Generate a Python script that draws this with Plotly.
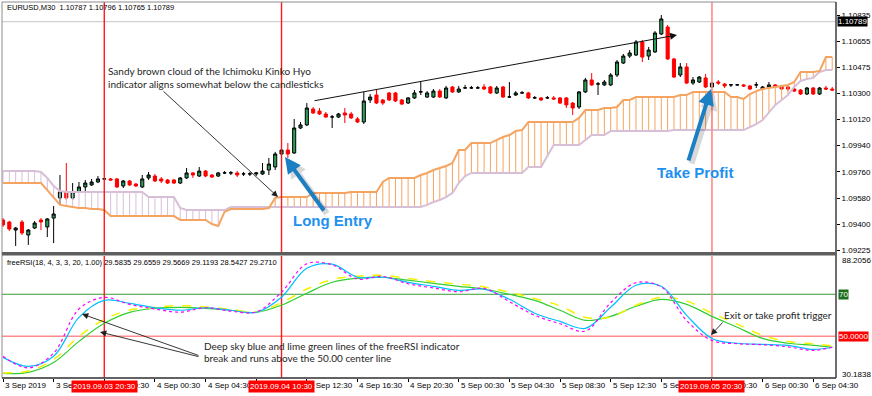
import plotly.graph_objects as go

# ------------------------------------------------------------------ data
bar_index = list(range(132))

opens = [
    1.09431, 1.09417, 1.09362, 1.09417, 1.09328, 1.09376, 1.09431, 1.09383, 1.09444, 1.09582,
    1.09623, 1.09582, 1.09623, 1.09657, 1.09671, 1.09691, 1.09712, 1.09712, 1.09712, 1.09664,
    1.09698, 1.09677, 1.09657, 1.09719, 1.09732, 1.09712, 1.09705, 1.09705, 1.09684, 1.09719,
    1.09753, 1.09732, 1.09766, 1.09739, 1.09732, 1.09753, 1.09753, 1.09753, 1.09746, 1.09746,
    1.09746, 1.09746, 1.09773, 1.09794, 1.09883, 1.09910, 1.09890, 1.10061, 1.10082, 1.10191,
    1.10177, 1.10157, 1.10136, 1.10136, 1.10164, 1.10157, 1.10123, 1.10102, 1.10253, 1.10287,
    1.10253, 1.10301, 1.10301, 1.10253, 1.10232, 1.10267, 1.10308, 1.10273, 1.10273, 1.10314,
    1.10267, 1.10342, 1.10308, 1.10335, 1.10335, 1.10335, 1.10342, 1.10342, 1.10301, 1.10342,
    1.10273, 1.10287, 1.10301, 1.10301, 1.10267, 1.10267, 1.10267, 1.10267, 1.10267, 1.10267,
    1.10232, 1.10205, 1.10308, 1.10390, 1.10362, 1.10356, 1.10356, 1.10424, 1.10506, 1.10554,
    1.10561, 1.10650, 1.10554, 1.10582, 1.10705, 1.10753, 1.10534, 1.10424, 1.10479, 1.10369,
    1.10376, 1.10404, 1.10342, 1.10376, 1.10362, 1.10356, 1.10356, 1.10356, 1.10349, 1.10356,
    1.10328, 1.10342, 1.10356, 1.10349, 1.10342, 1.10328, 1.10321, 1.10294, 1.10335, 1.10294,
    1.10335, 1.10328]

closes = [
    1.09397, 1.09369, 1.09376, 1.09342, 1.09362, 1.09410, 1.09417, 1.09438, 1.09472, 1.09623,
    1.09582, 1.09623, 1.09657, 1.09684, 1.09691, 1.09712, 1.09713, 1.09705, 1.09657, 1.09698,
    1.09671, 1.09664, 1.09712, 1.09739, 1.09698, 1.09698, 1.09684, 1.09684, 1.09719, 1.09753,
    1.09739, 1.09766, 1.09732, 1.09725, 1.09753, 1.09754, 1.09754, 1.09739, 1.09747, 1.09747,
    1.09753, 1.09766, 1.09814, 1.09883, 1.09910, 1.09883, 1.10061, 1.10082, 1.10198, 1.10164,
    1.10157, 1.10136, 1.10137, 1.10157, 1.10150, 1.10130, 1.10102, 1.10246, 1.10273, 1.10232,
    1.10232, 1.10253, 1.10246, 1.10225, 1.10267, 1.10301, 1.10309, 1.10301, 1.10314, 1.10273,
    1.10335, 1.10308, 1.10328, 1.10336, 1.10336, 1.10336, 1.10328, 1.10301, 1.10335, 1.10273,
    1.10274, 1.10301, 1.10302, 1.10267, 1.10268, 1.10253, 1.10268, 1.10260, 1.10232, 1.10219,
    1.10198, 1.10308, 1.10390, 1.10356, 1.10363, 1.10376, 1.10424, 1.10513, 1.10554, 1.10575,
    1.10650, 1.10547, 1.10595, 1.10712, 1.10808, 1.10534, 1.10410, 1.10479, 1.10369, 1.10390,
    1.10410, 1.10342, 1.10369, 1.10369, 1.10349, 1.10357, 1.10357, 1.10349, 1.10328, 1.10357,
    1.10342, 1.10356, 1.10342, 1.10328, 1.10328, 1.10314, 1.10294, 1.10335, 1.10294, 1.10335,
    1.10328, 1.10321]

highs = [
    1.09444, 1.09424, 1.09383, 1.09431, 1.09369, 1.09424, 1.09444, 1.09444, 1.09527, 1.09739,
    1.09821, 1.09684, 1.09691, 1.09705, 1.09712, 1.09732, 1.09719, 1.09719, 1.09719, 1.09705,
    1.09705, 1.09684, 1.09739, 1.09760, 1.09746, 1.09725, 1.09712, 1.09712, 1.09725, 1.09787,
    1.09760, 1.09794, 1.09773, 1.09746, 1.09760, 1.09766, 1.09766, 1.09766, 1.09760, 1.09760,
    1.09760, 1.09821, 1.09856, 1.09897, 1.09924, 1.09958, 1.10123, 1.10102, 1.10232, 1.10205,
    1.10198, 1.10171, 1.10150, 1.10164, 1.10198, 1.10171, 1.10136, 1.10308, 1.10294, 1.10321,
    1.10260, 1.10308, 1.10308, 1.10260, 1.10273, 1.10321, 1.10376, 1.10314, 1.10328, 1.10328,
    1.10349, 1.10349, 1.10349, 1.10356, 1.10349, 1.10349, 1.10362, 1.10349, 1.10349, 1.10349,
    1.10376, 1.10314, 1.10314, 1.10308, 1.10280, 1.10273, 1.10280, 1.10280, 1.10273, 1.10273,
    1.10239, 1.10314, 1.10404, 1.10437, 1.10376, 1.10390, 1.10437, 1.10527, 1.10568, 1.10595,
    1.10664, 1.10664, 1.10616, 1.10725, 1.10835, 1.10767, 1.10541, 1.10506, 1.10506, 1.10410,
    1.10417, 1.10431, 1.10376, 1.10390, 1.10369, 1.10362, 1.10362, 1.10362, 1.10356, 1.10376,
    1.10349, 1.10376, 1.10362, 1.10356, 1.10349, 1.10335, 1.10328, 1.10342, 1.10342, 1.10342,
    1.10349, 1.10342]

lows = [
    1.09383, 1.09355, 1.09253, 1.09328, 1.09260, 1.09369, 1.09362, 1.09314, 1.09273, 1.09534,
    1.09568, 1.09568, 1.09616, 1.09623, 1.09664, 1.09684, 1.09705, 1.09698, 1.09650, 1.09650,
    1.09664, 1.09657, 1.09650, 1.09705, 1.09691, 1.09684, 1.09677, 1.09677, 1.09677, 1.09712,
    1.09719, 1.09725, 1.09725, 1.09719, 1.09725, 1.09746, 1.09739, 1.09725, 1.09732, 1.09732,
    1.09732, 1.09739, 1.09739, 1.09773, 1.09869, 1.09856, 1.09883, 1.10054, 1.10075, 1.10157,
    1.10150, 1.10130, 1.10061, 1.10130, 1.10095, 1.10123, 1.10095, 1.10088, 1.10232, 1.10225,
    1.10219, 1.10246, 1.10239, 1.10219, 1.10225, 1.10260, 1.10287, 1.10267, 1.10267, 1.10267,
    1.10260, 1.10301, 1.10301, 1.10328, 1.10328, 1.10328, 1.10321, 1.10294, 1.10294, 1.10267,
    1.10267, 1.10280, 1.10294, 1.10260, 1.10260, 1.10246, 1.10260, 1.10253, 1.10225, 1.10198,
    1.10150, 1.10191, 1.10301, 1.10349, 1.10287, 1.10349, 1.10349, 1.10410, 1.10499, 1.10541,
    1.10554, 1.10513, 1.10527, 1.10575, 1.10698, 1.10527, 1.10404, 1.10410, 1.10362, 1.10356,
    1.10369, 1.10335, 1.10335, 1.10356, 1.10335, 1.10342, 1.10349, 1.10342, 1.10321, 1.10335,
    1.10321, 1.10335, 1.10335, 1.10321, 1.10314, 1.10308, 1.10287, 1.10287, 1.10287, 1.10287,
    1.10321, 1.10314]

# Ichimoku Senkou Span A (sandy brown) and Span B (thistle)
span_a = [
    1.09684, 1.09684, 1.09684, 1.09684, 1.09684, 1.09684, 1.09684, 1.09636, 1.09582, 1.09534,
    1.09527, 1.09520, 1.09513, 1.09513, 1.09506, 1.09506, 1.09499, 1.09458, 1.09458, 1.09458,
    1.09458, 1.09458, 1.09458, 1.09458, 1.09458, 1.09458, 1.09458, 1.09458, 1.09431, 1.09431,
    1.09431, 1.09431, 1.09431, 1.09403, 1.09390, 1.09486, 1.09506, 1.09506, 1.09506, 1.09506,
    1.09506, 1.09506, 1.09513, 1.09582, 1.09588, 1.09588, 1.09588, 1.09588, 1.09588, 1.09616,
    1.09616, 1.09616, 1.09616, 1.09616, 1.09616, 1.09623, 1.09623, 1.09623, 1.09623, 1.09623,
    1.09691, 1.09719, 1.09719, 1.09719, 1.09719, 1.09719, 1.09739, 1.09753, 1.09773, 1.09787,
    1.09801, 1.09821, 1.09910, 1.09910, 1.09958, 1.09958, 1.09958, 1.09958, 1.09979, 1.09999,
    1.10013, 1.10040, 1.10047, 1.10102, 1.10102, 1.10102, 1.10102, 1.10102, 1.10102, 1.10102,
    1.10102, 1.10130, 1.10184, 1.10184, 1.10184, 1.10198, 1.10198, 1.10205, 1.10253, 1.10253,
    1.10273, 1.10273, 1.10273, 1.10273, 1.10273, 1.10273, 1.10273, 1.10287, 1.10287, 1.10308,
    1.10308, 1.10308, 1.10308, 1.10308, 1.10308, 1.10273, 1.10273, 1.10260, 1.10294, 1.10314,
    1.10328, 1.10335, 1.10342, 1.10349, 1.10356, 1.10376, 1.10445, 1.10445, 1.10445, 1.10451,
    1.10547, 1.10547]

span_b = [
    1.09766, 1.09766, 1.09766, 1.09766, 1.09766, 1.09766, 1.09760, 1.09719, 1.09664, 1.09629,
    1.09623, 1.09623, 1.09623, 1.09623, 1.09623, 1.09623, 1.09623, 1.09623, 1.09623, 1.09623,
    1.09623, 1.09623, 1.09623, 1.09588, 1.09588, 1.09588, 1.09588, 1.09588, 1.09513, 1.09499,
    1.09499, 1.09499, 1.09499, 1.09499, 1.09499, 1.09499, 1.09520, 1.09520, 1.09520, 1.09520,
    1.09520, 1.09520, 1.09520, 1.09520, 1.09520, 1.09520, 1.09520, 1.09520, 1.09520, 1.09520,
    1.09520, 1.09520, 1.09520, 1.09520, 1.09520, 1.09520, 1.09520, 1.09520, 1.09520, 1.09520,
    1.09520, 1.09520, 1.09520, 1.09520, 1.09520, 1.09520, 1.09520, 1.09534, 1.09554, 1.09568,
    1.09588, 1.09616, 1.09684, 1.09732, 1.09753, 1.09753, 1.09753, 1.09753, 1.09753, 1.09753,
    1.09753, 1.09753, 1.09753, 1.09794, 1.09794, 1.09794, 1.09869, 1.09945, 1.09945, 1.09945,
    1.09945, 1.09945, 1.09979, 1.10013, 1.10013, 1.10013, 1.10040, 1.10040, 1.10040, 1.10040,
    1.10040, 1.10040, 1.10040, 1.10040, 1.10040, 1.10040, 1.10047, 1.10047, 1.10047, 1.10047,
    1.10047, 1.10047, 1.10047, 1.10047, 1.10047, 1.10047, 1.10047, 1.10047, 1.10068, 1.10088,
    1.10116, 1.10164, 1.10219, 1.10253, 1.10287, 1.10342, 1.10383, 1.10397, 1.10404, 1.10445,
    1.10458, 1.10458]

# freeRSI sub-window (sampled every 4 bars)
rsi_index = [0, 4, 8, 12, 16, 20, 24, 28, 32, 36, 40, 44, 48, 52, 56, 60, 64,
             68, 72, 76, 80, 84, 88, 92, 96, 100, 104, 108, 112, 116, 120, 124, 128, 131]
rsi_blue = [40.0, 35.7, 40.5, 59.0, 67.1, 65.7, 63.6, 62.4, 63.6, 62.4, 61.4, 68.6, 82.4,
            84.3, 78.1, 78.1, 75.7, 73.8, 71.9, 72.4, 67.6, 61.0, 57.1, 53.8, 63.8, 74.3,
            73.8, 60.0, 49.0, 46.7, 46.2, 45.7, 43.8, 44.8]
rsi_magenta = [40.5, 35.0, 42.0, 63.0, 68.5, 65.2, 63.0, 61.5, 63.6, 62.0, 61.6, 71.0, 84.5,
               84.0, 77.2, 78.5, 75.0, 73.0, 71.2, 72.8, 66.5, 60.0, 56.0, 52.5, 66.0, 75.5,
               73.5, 57.5, 48.0, 46.5, 46.0, 45.0, 43.3, 44.8]
rsi_lime = [32.4, 32.9, 37.6, 47.6, 56.2, 61.4, 63.3, 63.8, 63.3, 62.4, 61.4, 64.8, 70.5,
            75.7, 77.6, 78.1, 76.7, 75.2, 73.8, 72.4, 70.0, 67.1, 62.4, 57.6, 59.5, 64.3,
            67.6, 65.2, 59.5, 54.3, 49.0, 46.7, 45.7, 44.8]
rsi_yellow = [32.6, 33.5, 39.0, 50.0, 58.0, 62.5, 63.8, 64.6, 64.0, 62.8, 61.6, 66.0, 72.5,
              77.0, 78.6, 79.0, 77.5, 76.0, 74.8, 73.5, 71.0, 68.0, 64.5, 59.0, 59.2, 64.8,
              68.5, 66.8, 61.0, 55.8, 50.5, 47.5, 46.4, 45.5]
rsi_levels = [70, 50]
rsi_range = [30.1838, 88.2056]

time_tick_index = [0, 8, 16, 24, 32, 40, 48, 56, 64, 72, 80, 88, 96, 104, 112, 120, 128]
time_tick_labels = ["3 Sep 2019", "3 Sep 16:30", "3 Sep 20:30", "4 Sep 00:30", "4 Sep 04:30",
                    "4 Sep 08:30", "4 Sep 12:30", "4 Sep 16:30", "4 Sep 20:30", "5 Sep 00:30",
                    "5 Sep 04:30", "5 Sep 08:30", "5 Sep 12:30", "5 Sep 16:30", "5 Sep 20:30",
                    "6 Sep 00:30", "6 Sep 04:30"]
price_ticks = [1.10835, 1.10655, 1.10475, 1.10300, 1.10120, 1.09940, 1.09760, 1.09580,
               1.09400, 1.09225]
marker_index = [16, 44, 112]
marker_labels = ["2019.09.03 20:30", "2019.09.04 10:30", "2019.09.05 20:30"]
bid_price = 1.10789
price_range = [1.092116, 1.109241]

# ------------------------------------------------------------------ geometry
W, H = 872, 396
ML, MR, MT, MB = 2, 36, 2, 18
PW, PH = W - ML - MR, H - MT - MB
BAR_PX, FIRST_BAR_PX = 6.33, 3.0
x_range = [(ML - FIRST_BAR_PX) / BAR_PX, (ML + PW - FIRST_BAR_PX) / BAR_PX]


def fx(xp):
    return (xp - ML) / PW


def fy(yp):
    return (H - MB - yp) / PH


ORANGE = "#F4A460"
THISTLE = "#D8BFD8"
TXT = "#262626"
BLUE_TXT = "#1E90F0"
BLUE_ARR = "#1B7FC4"

fig = go.Figure()

# cloud hatching
hxa, hya, hxb, hyb = [], [], [], []
for i, a, b in zip(bar_index, span_a, span_b):
    if a >= b:
        hxa += [i, i, None]
        hya += [a, b, None]
    else:
        hxb += [i, i, None]
        hyb += [a, b, None]
fig.add_trace(go.Scatter(x=hxb, y=hyb, mode="lines", line=dict(color=THISTLE, width=1),
                         hoverinfo="skip", xaxis="x", yaxis="y"))
fig.add_trace(go.Scatter(x=hxa, y=hya, mode="lines", line=dict(color=ORANGE, width=1),
                         hoverinfo="skip", xaxis="x", yaxis="y"))
fig.add_trace(go.Scatter(x=bar_index, y=span_b, mode="lines", line=dict(color=THISTLE, width=2),
                         name="Senkou Span B", xaxis="x", yaxis="y"))
fig.add_trace(go.Scatter(x=bar_index, y=span_a, mode="lines", line=dict(color=ORANGE, width=2),
                         name="Senkou Span A", xaxis="x", yaxis="y"))

# vertical time markers (drawn as traces so they sit under the candles)
for mi, c, w in zip(marker_index, ["#FF1A1A", "#FF1A1A", "#FF8A8A"], [1.4, 1.4, 1.6]):
    fig.add_trace(go.Scatter(x=[mi, mi], y=price_range, mode="lines", line=dict(color=c, width=w),
                             hoverinfo="skip", xaxis="x", yaxis="y"))
    fig.add_trace(go.Scatter(x=[mi, mi], y=rsi_range, mode="lines", line=dict(color=c, width=w),
                             hoverinfo="skip", xaxis="x2", yaxis="y2"))

fig.add_trace(go.Candlestick(
    x=bar_index, open=opens, high=highs, low=lows, close=closes,
    increasing=dict(line=dict(color="#000000", width=1), fillcolor="#2E9D5B"),
    decreasing=dict(line=dict(color="#FF0000", width=1), fillcolor="#FF0000"),
    whiskerwidth=0, name="EURUSD", xaxis="x", yaxis="y"))

# RSI
fig.add_trace(go.Scatter(x=rsi_index, y=rsi_lime, mode="lines", line=dict(color="#32CD32", width=1.2, shape="spline"),
                         xaxis="x2", yaxis="y2"))
fig.add_trace(go.Scatter(x=rsi_index, y=rsi_yellow, mode="lines",
                         line=dict(color="#F2F200", width=1.5, dash="dash", shape="spline"),
                         xaxis="x2", yaxis="y2"))
fig.add_trace(go.Scatter(x=rsi_index, y=rsi_blue, mode="lines", line=dict(color="#00BFFF", width=1.2, shape="spline"),
                         xaxis="x2", yaxis="y2"))
fig.add_trace(go.Scatter(x=rsi_index, y=rsi_magenta, mode="lines",
                         line=dict(color="#FF00FF", width=1.2, dash="dot", shape="spline"),
                         xaxis="x2", yaxis="y2"))

shapes = []
# bid line
shapes.append(dict(type="line", xref="paper", yref="y", x0=0, x1=1, y0=bid_price, y1=bid_price,
                   line=dict(color="#C4C4C4", width=1), layer="below"))
# RSI levels
shapes.append(dict(type="line", xref="paper", yref="y2", x0=0, x1=1, y0=rsi_levels[0], y1=rsi_levels[0],
                   line=dict(color="#3A9A3A", width=1), layer="below"))
shapes.append(dict(type="line", xref="paper", yref="y2", x0=0, x1=1, y0=rsi_levels[1], y1=rsi_levels[1],
                   line=dict(color="#FF8C8C", width=1.5), layer="below"))
# frame
shapes.append(dict(type="rect", xref="paper", yref="paper", x0=0, x1=1, y0=0, y1=1,
                   line=dict(color="#8C8C8C", width=1), layer="above"))
shapes.append(dict(type="line", xref="paper", yref="paper", x0=1, x1=1, y0=0, y1=1,
                   line=dict(color="#505050", width=1.5), layer="above"))
shapes.append(dict(type="line", xref="paper", yref="paper", x0=0, x1=1, y0=0, y1=0,
                   line=dict(color="#404040", width=1.5), layer="above"))
# pane separator
shapes.append(dict(type="rect", xref="paper", yref="paper", x0=0, x1=1, y0=fy(255.5), y1=fy(252),
                   fillcolor="#5E5E5E", line=dict(width=0), layer="above"))

ann = []


def text(t, xp, yp, size=10, color=TXT, family="Lato", xanchor="left", **kw):
    ann.append(dict(text=t, x=fx(xp), y=fy(yp), xref="paper", yref="paper", showarrow=False,
                    xanchor=xanchor, yanchor="middle", font=dict(size=size, color=color, family=family), **kw))


def arrow(tip_x, tip_y, tail_x, tail_y, color="#202020", width=0.9, head=2, size=1.4):
    ann.append(dict(text="", x=fx(tip_x), y=fy(tip_y), xref="paper", yref="paper", showarrow=True,
                    ax=tail_x - tip_x, ay=tail_y - tip_y, axref="pixel", ayref="pixel",
                    arrowcolor=color, arrowwidth=width, arrowhead=head, arrowsize=size, standoff=0))


text("EURUSD,M30\u00a0 1.10787 1.10796 1.10765 1.10789", 5, 8, size=7.5, family="Liberation Sans", color="#000")
text("freeRSI(18, 4, 3, 3, 20, 1.00) 29.5835 29.6559 29.5669 29.1193 28.5427 29.2710", 5, 262,
     size=7.5, family="Liberation Sans", color="#000")

text("Sandy brown cloud of the Ichimoku Kinko Hyo", 106, 71)
text("indicator aligns somewhat below the candlesticks", 106, 83.5)
text("Deep sky blue and lime green lines of the freeRSI indicator", 202, 346)
text("break and runs above the 50.00 center line", 202, 358)
text("Exit or take profit trigger", 722, 315)

arrow(278, 197, 162, 90)
arrow(677, 35, 313, 101, color="#101010", width=1)
arrow(82, 314, 200, 356)
arrow(100, 332, 200, 357)
arrow(711, 335, 724, 321)

# blue arrows with soft shadow
arrow(288, 160, 328, 215, color="rgba(0,0,0,0.15)", width=6, head=2, size=0.6)
arrow(285, 157, 325, 212, color=BLUE_ARR, width=4, head=2, size=0.8)
arrow(714, 92, 691, 165, color="rgba(0,0,0,0.15)", width=6, head=2, size=0.6)
arrow(711, 89, 688, 162, color=BLUE_ARR, width=4, head=2, size=0.8)
text("<b>Long Entry</b>", 291, 221, size=15, color=BLUE_TXT, family="Liberation Sans")
text("<b>Take Profit</b>", 655, 172, size=15, color=BLUE_TXT, family="Liberation Sans")

# time axis labels (left aligned at their ticks)
for ti, tl in zip(time_tick_index, time_tick_labels):
    ann.append(dict(text=tl, x=ti, y=fy(386), xref="x2", yref="paper", showarrow=False,
                    xanchor="left", yanchor="middle", xshift=0,
                    font=dict(size=8, color="#000", family="Liberation Sans")))
for mi, ml in zip(marker_index, marker_labels):
    ann.append(dict(text=ml, x=mi, y=fy(386.5), xref="x2", yref="paper", showarrow=False,
                    xanchor="center", yanchor="middle", bgcolor="#FF0000", borderpad=1,
                    font=dict(size=8, color="#FFFFFF", family="Liberation Sans")))

# right-side value labels
ann.append(dict(text="1.10789", x=fx(837), y=bid_price, xref="paper", yref="y", showarrow=False,
                xanchor="left", yanchor="middle", bgcolor="#000000", borderpad=0,
                font=dict(size=8, color="#FFFFFF", family="Liberation Sans")))
text("88.2056", 840, 260, size=8, family="Liberation Sans", color="#000")
text("30.1838", 840, 374.5, size=8, family="Liberation Sans", color="#000")
ann.append(dict(text="70", x=fx(838), y=rsi_levels[0], xref="paper", yref="y2", showarrow=False,
                xanchor="left", yanchor="middle", bgcolor="#1E6E1E", borderpad=0,
                font=dict(size=8, color="#FFFFFF", family="Liberation Sans")))
ann.append(dict(text="50.0000", x=fx(838), y=rsi_levels[1], xref="paper", yref="y2", showarrow=False,
                xanchor="left", yanchor="middle", bgcolor="#FF0000", borderpad=0,
                font=dict(size=8, color="#FFFFFF", family="Liberation Sans")))

fig.update_layout(
    width=W, height=H,
    margin=dict(l=ML, r=MR, t=MT, b=MB, pad=0),
    paper_bgcolor="white", plot_bgcolor="white", showlegend=False,
    font=dict(family="Liberation Sans", size=8, color="#000"),
    hovermode=False,
    xaxis=dict(domain=[0, 1], range=x_range, anchor="y", showticklabels=False, showgrid=False,
               zeroline=False, ticks="", rangeslider=dict(visible=False), fixedrange=True,
               showspikes=False),
    xaxis2=dict(domain=[0, 1], range=x_range, anchor="y2", showgrid=False, zeroline=False,
                ticks="outside", ticklen=3, tickcolor="#000", tickvals=time_tick_index,
                showticklabels=False, fixedrange=True),
    yaxis=dict(domain=[fy(252), 1], range=price_range, side="right", tickvals=price_ticks,
               ticktext=[f"{v:.5f}" for v in price_ticks], ticks="outside", ticklen=3,
               tickcolor="#000", showgrid=False, zeroline=False,
               tickfont=dict(size=8, color="#000", family="Liberation Sans"), fixedrange=True),
    yaxis2=dict(domain=[0, fy(256)], range=rsi_range, side="right", showticklabels=False,
                showgrid=False, zeroline=False, ticks="", fixedrange=True),
    shapes=shapes, annotations=ann,
)

fig.write_html("out.html", config={"displayModeBar": False},
               post_script="document.body.style.margin='0';document.body.style.overflow='hidden';")
